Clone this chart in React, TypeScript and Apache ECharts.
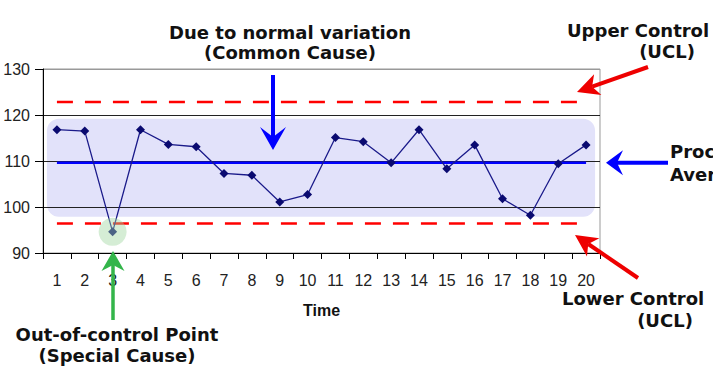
import React, { useEffect, useRef } from "react";
import * as echarts from "echarts";

// ---- data ----
const timeLabels = ["1","2","3","4","5","6","7","8","9","10","11","12","13","14","15","16","17","18","19","20"];
const measurements = [116.8, 116.5, 94.6, 116.8, 113.6, 113.1, 107.3, 106.9, 101.1, 102.7, 115.1, 114.2, 109.6, 116.8, 108.3, 113.5, 101.8, 98.2, 109.4, 113.5];
const upperControlLimit = 122.8;
const lowerControlLimit = 96.4;
const processAverage = 109.6;
const commonCauseBand = [97.9, 119.2];
const outOfControlIndices = [2];
const yMin = 90;
const yMax = 130;
const yStep = 10;

const ANN_FONT = "'DejaVu Sans', Verdana, sans-serif";
const AXIS_FONT = "'Liberation Sans', Arial, sans-serif";

function arrow(x0: number, y0: number, x1: number, y1: number, color: string, width: number, headLen: number, headHalf: number, notch: number) {
  const dx = x1 - x0, dy = y1 - y0;
  const len = Math.sqrt(dx * dx + dy * dy);
  const ux = dx / len, uy = dy / len;
  const vx = -uy, vy = ux;
  const bx = x1 - headLen * ux, by = y1 - headLen * uy;
  const nx = x1 - (headLen - notch) * ux, ny = y1 - (headLen - notch) * uy;
  return [
    {
      type: "line",
      z: 50,
      shape: { x1: x0, y1: y0, x2: nx, y2: ny },
      style: { stroke: color, lineWidth: width },
    },
    {
      type: "polygon",
      z: 50,
      shape: {
        points: [
          [x1, y1],
          [bx + headHalf * vx, by + headHalf * vy],
          [nx, ny],
          [bx - headHalf * vx, by - headHalf * vy],
        ],
      },
      style: { fill: color },
    },
  ];
}

function label(text: string, x: number, y: number, align: string) {
  return {
    type: "text",
    z: 60,
    x,
    y,
    style: {
      text,
      fill: "#111",
      font: `bold 18px ${ANN_FONT}`,
      align,
      verticalAlign: "middle",
    },
  };
}

export default function App() {
  const ref = useRef<HTMLDivElement>(null);

  useEffect(() => {
    document.body.style.margin = "0";
    const chart = echarts.init(ref.current!, undefined, { renderer: "svg" });
    const option: any = {
      animation: false,
      backgroundColor: "#ffffff",
      grid: {
        left: 43,
        top: 69,
        right: 113,
        bottom: 121,
        show: true,
        borderColor: "#999",
        borderWidth: 1,
        backgroundColor: "transparent",
      },
      xAxis: {
        type: "category",
        data: timeLabels,
        boundaryGap: true,
        name: "Time",
        nameLocation: "middle",
        nameGap: 49,
        nameTextStyle: { fontFamily: AXIS_FONT, fontSize: 16, fontWeight: "bold", color: "#111" },
        axisLine: { lineStyle: { color: "#000", width: 1 } },
        axisTick: { show: true, length: 6, alignWithLabel: false, lineStyle: { color: "#000" } },
        axisLabel: { fontFamily: AXIS_FONT, fontSize: 16, color: "#222", margin: 19, interval: 0 },
        splitLine: { show: false },
      },
      yAxis: {
        type: "value",
        min: yMin,
        max: yMax,
        interval: yStep,
        axisLine: { show: true, lineStyle: { color: "#000", width: 1 } },
        axisTick: { show: true, length: 8, lineStyle: { color: "#000" } },
        axisLabel: { fontFamily: AXIS_FONT, fontSize: 16, color: "#222", margin: 13 },
        splitLine: { show: true, lineStyle: { color: ["#999", "#222", "#222", "#222", "#999"], width: 1 } },
      },
      series: [
        {
          name: "UCL",
          type: "line",
          data: timeLabels.map(() => upperControlLimit),
          symbol: "none",
          z: 3,
          lineStyle: { color: "#ff0000", width: 2.5, type: [16, 12] },
          silent: true,
        },
        {
          name: "LCL",
          type: "line",
          data: timeLabels.map(() => lowerControlLimit),
          symbol: "none",
          z: 3,
          lineStyle: { color: "#ff0000", width: 2.5, type: [16, 12] },
          silent: true,
        },
        {
          name: "Average",
          type: "line",
          data: timeLabels.map(() => processAverage),
          symbol: "none",
          z: 3,
          lineStyle: { color: "#0000ff", width: 2.5 },
          silent: true,
        },
        {
          name: "Measurements",
          type: "line",
          data: measurements,
          symbol: "diamond",
          symbolSize: 9,
          z: 4,
          lineStyle: { color: "#1a1a8a", width: 1.3 },
          itemStyle: { color: "#0a0a70" },
        },
        {
          name: "Out of control",
          type: "scatter",
          data: outOfControlIndices.map((i) => [i, measurements[i]]),
          symbol: "circle",
          symbolSize: 28,
          z: 5,
          itemStyle: { color: "rgba(160,215,160,0.55)" },
          silent: true,
        },
      ],
    };
    chart.setOption(option);

    const [xl] = chart.convertToPixel({ gridIndex: 0 }, [0, commonCauseBand[1]]) as number[];
    const [xr] = chart.convertToPixel({ gridIndex: 0 }, [timeLabels.length - 1, commonCauseBand[1]]) as number[];
    const yt = (chart.convertToPixel({ gridIndex: 0 }, [0, commonCauseBand[1]]) as number[])[1];
    const yb = (chart.convertToPixel({ gridIndex: 0 }, [0, commonCauseBand[0]]) as number[])[1];

    const elements: any[] = [
      {
        type: "rect",
        z: -10,
        shape: { x: xl - 10, y: yt, width: xr + 9 - (xl - 10), height: yb - yt, r: 12 },
        style: { fill: "#e2e2fa" },
        silent: true,
      },
      ...arrow(273, 75, 273, 150, "#0000ff", 4, 23, 13, 10),
      ...arrow(668, 162.7, 606, 162.7, "#0000ff", 4, 17, 12.5, 6),
      ...arrow(648, 67, 577, 92, "#ee0000", 4, 22, 11, 6),
      ...arrow(638, 278, 575, 235, "#ee0000", 4, 22, 11, 6),
      ...arrow(113, 320, 113, 251, "#33b54a", 3.5, 20, 11.5, 6),
      label("Due to normal variation", 290, 32, "center"),
      label("(Common Cause)", 290, 52, "center"),
      label("Upper Control", 567, 30, "left"),
      label("(UCL)", 667, 51, "center"),
      label("Process", 670, 151, "left"),
      label("Average", 670, 174, "left"),
      label("Lower Control", 562, 298, "left"),
      label("(UCL)", 665, 320, "center"),
      label("Out-of-control Point", 117, 334, "center"),
      label("(Special Cause)", 117, 355, "center"),
    ];
    chart.setOption({ graphic: { elements } });

    return () => chart.dispose();
  }, []);

  return <div ref={ref} style={{ width: 713, height: 374, overflow: "hidden" }} />;
}
